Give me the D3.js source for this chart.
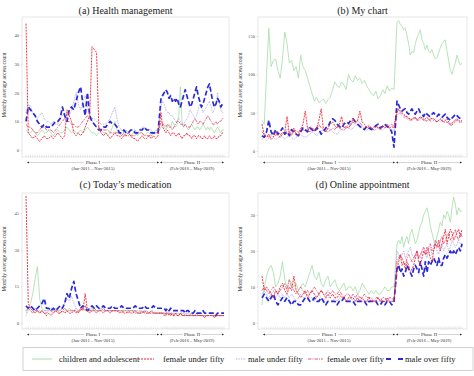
<!DOCTYPE html>
<html>
<head>
<meta charset="utf-8">
<script src="https://cdn.jsdelivr.net/npm/d3@7"></script>
<style>
  body { margin: 0; background: #fff; }
  svg { font-family: "Liberation Serif", "DejaVu Serif", serif; }
</style>
</head>
<body>
<script>
// months of each phase (categories)
var phase1Months = d3.timeMonth.range(new Date(2011, 0, 1), new Date(2015, 11, 1)); // Jan-2011 .. Nov-2015
var phase2Months = d3.timeMonth.range(new Date(2016, 1, 1), new Date(2019, 5, 1));  // Feb-2016 .. May-2019
var months = phase1Months.concat(phase2Months);

var seriesNames = ["children and adolescent", "female under fifty", "male under fifty", "female over fifty", "male over fifty"];
var panelTitles = ["(a) Health management", "(b) My chart", "(c) Today\u2019s medication", "(d) Online appointment"];
var yTicks = [[0, 10, 20, 30, 40], [0, 50, 100, 150], [0, 15, 30, 45], [0, 10, 20, 30]];

// (a) Health management
var aChild = [7,6,6,7,6,5,6,7,6,6, 7,6,5,6,7,6,6,7,8,7, 6,7,6,6,7,6,7,8,7,6, 6,5,6,7,6,6,5,6,8,10, 7,6,6,5,6,6,5,6,6,5, 6,6,5,6,6,5,6,6,6,
  8,9,8,7,8,9,8,10,9,8, 9,12,22,10,8,9,8,7,8,9, 8,7,8,8,7,8,9,8,7,8, 7,8,7,6,7,8,7,6,7,7];
var aFemU = [44,6,5,4,5,4,3,4,5,4, 4,5,4,5,6,5,4,5,14,12, 10,6,5,6,5,6,8,10,12,36, 35,34,8,6,5,6,5,4,5,6, 5,5,4,5,5,6,5,4,4,3, 4,5,4,4,5,4,5,4,5,
  13,8,7,6,7,6,5,6,6,5, 5,6,5,4,5,5,6,5,5,4, 5,5,4,5,5,4,4,5,4,4, 5,4,4,5,4,4,5,5,6,6];
var aMaleU = [13,16,15,13,12,11,12,13,11,10, 10,9,10,9,9,11,12,13,12,12, 14,17,20,16,14,17,19,15,12,11, 11,10,10,9,9,9,10,11,13,15, 11,8,7,6,7,6,7,7,7,6, 7,8,8,7,7,7,6,7,7,
  15,17,16,14,13,13,12,12,11,10, 10,11,10,9,9,10,11,12,14,13, 12,11,12,14,16,15,13,14,15,16, 17,15,13,14,16,20,17,14,13,13];
var aFemO = [9,8,8,7,6,6,7,8,8,7, 7,7,6,7,8,9,10,11,10,10, 9,9,8,8,9,10,11,12,11,10, 9,8,8,7,7,7,7,6,6,6, 6,6,5,6,5,5,5,5,5,6, 6,6,5,5,5,5,6,6,6,
  10,9,9,8,9,8,8,7,8,9, 10,10,9,9,8,9,8,8,8,9, 10,11,10,9,10,10,9,10,11,12, 11,10,9,9,10,9,10,10,11,11];
var aMaleO = [10,15,14,13,12,10,9,8,9,8, 8,8,9,10,10,11,15,12,10,14, 15,14,17,20,22,16,12,20,12,10, 9,8,7,7,8,8,9,10,9,9, 8,6,6,7,6,6,7,7,6,6, 7,7,8,7,7,6,6,6,6,
  18,19,20,21,20,18,19,17,18,17, 18,16,15,17,19,21,19,17,15,16, 18,20,22,19,17,15,16,18,20,22, 23,20,17,15,16,18,17,15,16,16];

// (b) My chart
var bChild = [40,35,100,160,110,118,120,105,95,120, 155,140,115,118,105,110,95,125,110,105, 95,85,75,65,70,63,65,68,62,67, 70,80,90,85,83,90,86,80,100,93, 90,98,92,95,88,92,85,80,75,72, 78,68,72,80,75,85,78,82,80,
  168,170,165,163,158,160,150,140,125,130, 128,140,148,152,158,145,140,132,138,130, 128,132,125,120,122,128,135,140,143,145, 130,118,105,100,108,115,125,118,112,115];
var bFemU = [35,20,18,22,15,18,25,20,18,22, 25,45,22,20,30,22,20,28,35,52, 30,25,28,26,30,40,55,28,25,30, 35,38,33,30,35,45,30,32,30,35, 42,38,40,52,38,35,30,32,30,28, 32,30,28,33,30,35,30,32,30,
  50,55,52,50,48,46,45,43,42,40, 42,44,40,42,45,43,40,42,44,41, 40,43,42,40,38,40,42,40,38,40, 42,38,35,36,38,40,42,40,38,40];
var bMaleU = [15,18,14,16,20,18,15,17,20,18, 16,18,20,17,15,18,20,22,19,18, 20,22,25,23,20,24,26,28,25,30, 28,25,23,22,25,28,30,32,30,28, 30,33,35,32,30,28,27,30,28,26, 28,30,29,27,30,32,30,28,26,
  45,50,48,46,44,43,42,40,41,42, 43,41,40,42,44,42,40,38,40,41, 39,38,40,42,41,39,38,40,42,40, 38,36,35,37,39,41,42,40,39,40];
var bFemO = [25,22,20,18,22,25,20,23,21,24, 22,28,25,23,25,27,24,30,28,26, 28,32,30,28,27,35,30,28,26,25, 27,30,28,32,30,28,27,30,35,33, 38,35,40,37,33,30,32,34,30,31, 33,31,30,32,34,31,33,35,32,
  55,52,50,48,46,45,44,42,40,42, 44,43,41,40,42,44,42,40,39,41, 43,42,40,39,38,40,41,39,38,37, 38,36,33,34,36,38,40,38,37,38];
var bMaleO = [20,18,25,40,25,20,28,22,25,30, 22,25,20,28,25,22,20,25,30,28, 25,30,28,25,30,28,22,25,30,32, 38,42,40,35,32,30,35,38,36,40, 42,38,35,32,30,28,32,30,28,30, 33,35,30,32,35,32,30,25,5,
  65,60,55,52,54,55,50,48,52,55, 50,48,52,55,50,48,45,50,48,46, 45,48,50,47,45,48,46,44,46,48, 44,42,40,43,45,48,46,44,42,40];

// (c) Today's medication
var cChild = [4,6,8,12,18,23,10,6,5,5, 6,5,5,6,5,5,6,5,5,6, 5,5,6,5,5,6,5,5,5,6, 5,5,5,6,5,5,5,5,5,5, 5,5,5,5,5,5,5,5,5,4, 5,5,4,5,4,5,4,4,4,
  4,4,4,4,4,4,4,4,3,4, 4,3,4,4,3,4,3,3,4,3, 3,3,4,3,3,3,3,3,3,3, 3,3,3,3,3,3,3,3,3,3];
var cFemU = [52,8,6,5,4,5,4,5,4,3, 4,3,4,5,4,4,5,4,5,4, 4,5,5,4,6,5,12,5,4,5, 5,4,5,5,4,5,5,4,5,5, 5,4,5,4,4,5,4,4,5,4, 4,4,5,4,4,4,4,4,4,
  4,4,3,4,4,3,4,3,3,4, 3,3,4,3,3,3,3,3,3,3, 3,3,3,3,3,3,3,2,3,3, 3,3,3,2,3,3,3,3,3,3];
var cMaleU = [3,5,6,5,6,5,5,4,5,5, 5,6,5,5,6,5,6,8,10,9, 11,8,6,5,5,6,5,5,6,5, 5,5,5,6,5,5,5,5,5,5, 5,5,5,5,6,5,5,5,5,5, 5,4,5,5,4,5,5,4,4,
  4,4,4,4,4,4,4,4,4,4, 4,4,4,4,4,3,4,4,3,4, 3,3,4,3,3,3,3,3,3,3, 3,3,3,3,3,3,3,3,3,3];
var cFemO = [5,6,5,4,5,5,4,5,4,4, 5,5,4,5,5,4,5,6,5,5, 5,5,4,5,5,6,7,5,5,5, 6,5,5,5,6,5,5,5,5,5, 5,5,4,5,5,4,5,5,4,4, 4,5,4,4,4,5,4,4,4,
  4,4,4,3,4,4,3,4,3,4, 3,3,4,3,3,3,3,3,3,3, 3,3,3,3,3,3,3,3,3,3, 3,3,3,3,3,3,3,3,3,3];
var cMaleO = [7,6,7,6,5,6,7,8,10,6, 6,5,6,5,6,7,6,8,12,10, 14,17,12,9,6,7,6,5,6,7, 6,7,6,6,7,6,6,6,7,6, 6,6,7,6,6,6,6,6,7,6, 6,6,7,6,6,6,7,6,6,
  6,6,6,5,6,5,6,5,5,5, 5,5,5,5,5,4,5,5,4,4, 4,5,4,4,4,4,5,4,4,4, 4,4,4,4,3,4,4,4,4,4];

// (d) Online appointment
var dChild = [5,10,13,15,16,14,10,11,13,17, 12,10,12,11,10,11,9,10,11,10, 12,14,16,13,12,14,11,10,12,13, 10,11,12,10,9,10,11,9,10,10, 9,10,8,9,11,10,9,8,9,8, 9,8,8,9,10,9,9,10,10,
  22,23,22,24,21,23,24,22,25,26, 24,22,23,25,27,28,30,31,32,30, 27,25,23,22,24,26,28,27,30,29, 31,30,28,32,35,33,30,32,31,31];
var dFemU = [13,9,10,9,8,7,9,8,10,11, 9,8,10,9,13,9,8,7,8,9, 7,8,9,8,7,8,9,8,7,8, 7,8,7,7,8,7,7,6,7,7, 7,6,7,6,7,6,6,7,6,6, 6,7,6,6,6,7,6,6,6,
  15,17,19,16,17,15,17,16,14,15, 16,18,20,17,16,18,20,19,21,20, 18,17,20,22,21,23,20,22,24,26, 22,24,26,25,23,24,25,26,24,26];
var dMaleU = [8,9,8,7,8,9,7,8,7,8, 7,8,7,8,7,6,7,8,7,7, 8,7,7,6,7,8,7,6,7,7, 7,6,7,6,7,6,7,6,6,7, 6,6,7,6,6,6,6,6,6,6, 6,6,6,6,6,6,6,6,6,
  20,19,18,19,20,18,19,20,21,19, 18,19,20,19,18,20,21,19,18,20, 21,19,20,22,20,19,21,22,20,21, 22,20,21,23,22,21,22,23,22,22];
var dFemO = [9,10,9,8,9,10,9,8,9,10, 11,9,12,10,9,8,9,10,9,8, 9,8,9,10,9,8,9,8,8,9, 8,9,8,8,9,8,7,8,8,7, 8,7,8,7,7,8,7,7,7,6, 7,7,6,7,7,6,7,7,6,
  17,18,19,18,17,16,18,19,18,17, 18,19,20,18,19,20,21,20,19,21, 22,20,21,23,22,21,23,24,22,23, 24,25,23,24,25,26,24,23,25,24];
var dMaleO = [7,8,7,6,7,8,6,5,6,7, 6,7,6,5,6,6,5,5,6,7, 7,6,6,7,6,6,7,6,5,6, 6,6,6,5,6,6,7,6,6,6, 6,5,6,6,6,6,5,6,6,6, 6,5,5,6,5,6,6,5,6,
  15,16,14,15,13,14,16,15,14,13, 15,16,15,14,17,15,13,17,14,17, 16,17,18,17,16,18,16,16,18,19, 18,19,20,19,20,19,20,21,20,22];

var panelData = [
  [aChild, aFemU, aMaleU, aFemO, aMaleO],
  [bChild, bFemU, bMaleU, bFemO, bMaleO],
  [cChild, cFemU, cMaleU, cFemO, cMaleO],
  [dChild, dFemU, dMaleU, dFemO, dMaleO]
];

// line styles, same order as seriesNames
var styles = [
  {color: "#a6dca6", width: 0.8, dash: null},
  {color: "#ee2233", width: 0.9, dash: "2,1"},
  {color: "#9c9ce6", width: 0.9, dash: "0.8,0.9"},
  {color: "#e2587a", width: 0.9, dash: "3.5,1,1,1"},
  {color: "#2a2ad6", width: 1.7, dash: "5,2.5"}
];
var drawOrder = [0, 2, 3, 4, 1];

var width = 474, height = 376;
var svg = d3.select("body").append("svg")
    .attr("width", width)
    .attr("height", height);

var n1 = phase1Months.length, n2 = phase2Months.length;

/* panel frames: left, top, width, height */
var frames = [
  {x: 22,  y: 17,  w: 207, h: 140, titleY: 14},
  {x: 258, y: 17,  w: 209, h: 140, titleY: 14},
  {x: 22,  y: 193, w: 207, h: 136, titleY: 188},
  {x: 258, y: 193, w: 209, h: 136, titleY: 188}
];
// y value at frame bottom / top for each panel
var yDomains = [[-2.4, 46.3], [-7.8, 174.7], [-2.5, 53.2], [-1.7, 36.1]];

frames.forEach(function(f, p) {
  var g = svg.append("g").attr("transform", "translate(" + f.x + "," + f.y + ")");

  // polylinear x: phase I and phase II have their own spacing
  var x = d3.scaleLinear()
      .domain([0, n1 - 1, n1, n1 + n2 - 1])
      .range([4, 136, 139, f.w - 5]);
  var y = d3.scaleLinear().domain(yDomains[p]).range([f.h, 0]);

  // title
  svg.append("text")
      .attr("x", f.x + f.w / 2)
      .attr("y", f.titleY)
      .attr("text-anchor", "middle")
      .attr("font-size", "10px")
      .attr("fill", "#222")
      .text(panelTitles[p]);

  // frame
  g.append("rect")
      .attr("width", f.w).attr("height", f.h)
      .attr("fill", "none")
      .attr("stroke", "#d6d6d6")
      .attr("stroke-width", 0.6);

  // monthly ticks along the bottom
  g.selectAll("line.mtick")
      .data(months)
      .enter().append("line")
      .attr("class", "mtick")
      .attr("x1", function(d, i) { return x(i); })
      .attr("x2", function(d, i) { return x(i); })
      .attr("y1", f.h - 2.5).attr("y2", f.h)
      .attr("stroke", "#c8c8c8")
      .attr("stroke-width", 0.4);

  // y axis
  var yAxis = d3.axisLeft(y).tickValues(yTicks[p]).tickSize(1.5).tickPadding(1.5);
  var ya = g.append("g").call(yAxis);
  ya.select(".domain").remove();
  ya.selectAll("line").attr("stroke", "#bbb").attr("stroke-width", 0.4);
  ya.selectAll("text")
      .attr("font-family", "Liberation Serif, serif")
      .attr("font-size", "4.6px")
      .attr("fill", "#555");

  // y label
  g.append("text")
      .attr("transform", "translate(" + (-16) + "," + (f.h / 2 - 2) + ") rotate(-90)")
      .attr("text-anchor", "middle")
      .attr("font-size", "5.4px")
      .attr("fill", "#333")
      .text("Monthly average access count");

  // series lines
  var line = d3.line()
      .x(function(d, i) { return x(i); })
      .y(function(d) { return y(d); });

  drawOrder.forEach(function(s) {
    g.append("path")
        .datum(panelData[p][s])
        .attr("d", line)
        .attr("fill", "none")
        .attr("stroke", styles[s].color)
        .attr("stroke-width", styles[s].width)
        .attr("stroke-dasharray", styles[s].dash)
        .attr("stroke-linejoin", "round");
  });

  // phase annotation under the frame
  var py = f.h + 5.5;
  var phases = [
    {from: x(0) + 1, to: x(n1 - 1) + 1, name: "Phase I", range: "(Jan-2011 \u2013 Nov-2015)"},
    {from: x(n1) - 1, to: x(n1 + n2 - 1), name: "Phase II", range: "(Feb-2016 \u2013 May-2019)"}
  ];
  phases.forEach(function(ph) {
    var mid = (ph.from + ph.to) / 2;
    g.append("line")
        .attr("x1", ph.from).attr("x2", ph.to)
        .attr("y1", py).attr("y2", py)
        .attr("stroke", "#aaa")
        .attr("stroke-width", 0.5);
    [ph.from, ph.to].forEach(function(px, k) {
      var dir = k === 0 ? 1 : -1;
      g.append("path")
          .attr("d", "M" + px + "," + py + "l" + (2 * dir) + ",-0.9l0,1.8z")
          .attr("fill", "#333");
    });
    g.append("rect")
        .attr("x", mid - 9).attr("y", py - 3)
        .attr("width", 18).attr("height", 5.5)
        .attr("fill", "#fff");
    g.append("text")
        .attr("x", mid).attr("y", py + 1.6)
        .attr("text-anchor", "middle")
        .attr("font-size", "5px")
        .attr("fill", "#333")
        .text(ph.name);
    g.append("text")
        .attr("x", mid).attr("y", py + 7.8)
        .attr("text-anchor", "middle")
        .attr("font-size", "4.6px")
        .attr("fill", "#333")
        .text(ph.range);
  });
});

/* legend */
var legend = svg.append("g");
legend.append("rect")
    .attr("x", 23).attr("y", 347.5)
    .attr("width", 450).attr("height", 23)
    .attr("fill", "#fff")
    .attr("stroke", "#c8c8c8")
    .attr("stroke-width", 0.8);

var legendPos = [
  {x1: 32, x2: 52, tx: 59},
  {x1: 138, x2: 154, tx: 163},
  {x1: 236, x2: 246, tx: 248},
  {x1: 308, x2: 323, tx: 327},
  {x1: 386, x2: 403, tx: 405}
];
seriesNames.forEach(function(name, s) {
  var lp = legendPos[s];
  legend.append("line")
      .attr("x1", lp.x1).attr("x2", lp.x2)
      .attr("y1", 359).attr("y2", 359)
      .attr("stroke", styles[s].color)
      .attr("stroke-width", s === 4 ? 2 : 1)
      .attr("stroke-dasharray", s === 4 ? "5,7" : styles[s].dash);
  legend.append("text")
      .attr("x", lp.tx).attr("y", 361.8)
      .attr("font-size", "8.5px")
      .attr("fill", "#222")
      .text(name);
});
</script>
</body>
</html>
